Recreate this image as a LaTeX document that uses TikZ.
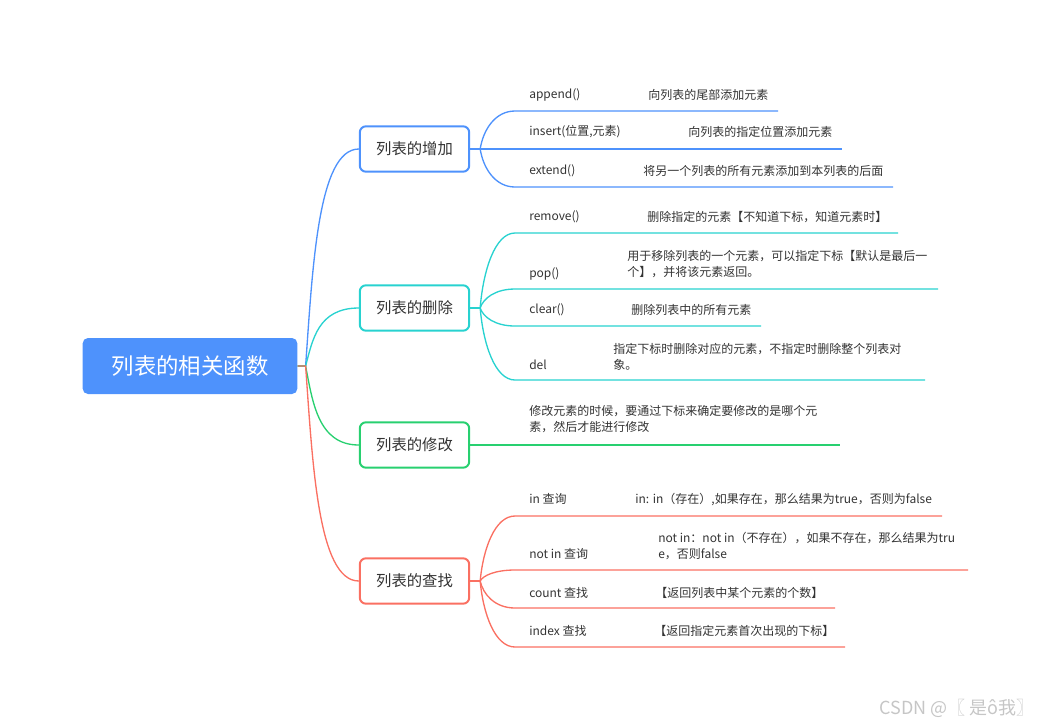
\documentclass[tikz,border=0pt]{standalone}
\usepackage{fontspec}
\setmainfont{Noto Sans CJK SC}
\usepackage{xcolor}
\usepackage{tikz}
\usetikzlibrary{calc}

\definecolor{mmblue}{RGB}{78,146,252}
\definecolor{mmcyan}{RGB}{40,210,208}
\definecolor{mmgreen}{RGB}{40,208,112}
\definecolor{mmred}{RGB}{250,112,98}
\definecolor{txtgray}{RGB}{51,51,51}

\begin{document}
\begin{tikzpicture}[x=0.75pt,y=-0.75pt,
    root/.style={fill=mmblue, rounded corners=4pt, minimum width=161pt, minimum height=42pt,
      text=white, font=\fontsize{16.8pt}{20pt}\selectfont},
    branch/.style={draw, line width=1.5pt, rounded corners=4.5pt, fill=white, minimum width=82pt,
      minimum height=34pt, text=txtgray, font=\fontsize{11.5pt}{14pt}\selectfont},
    item/.style={anchor=west, inner sep=0pt, text=txtgray, align=left,
      font=\fontsize{9pt}{12pt}\selectfont},
    link/.style={line width=1pt}]
  \useasboundingbox (0,0) rectangle (1049,726);

  % centre and the four branches
  \node[root] (root) at (190,366) {列表的相关函数};
  \node[branch, draw=mmblue] (addb) at (414.5,149) {列表的增加};
  \node[branch, draw=mmcyan] (delb) at (414.5,308) {列表的删除};
  \node[branch, draw=mmgreen] (modb) at (414.5,445) {列表的修改};
  \node[branch, draw=mmred] (findb) at (414.5,581) {列表的查找};

  \coordinate (rj) at ($(root.east)+(8,0)$);
  \foreach \b/\c in {addb/mmblue, delb/mmcyan, modb/mmgreen, findb/mmred}
    {\draw[link,\c] (root.east) -- (rj)
      .. controls ($(rj)!0.45!(rj |- \b.west)+(7,0)$) and ($(\b.west)+(-41,0)$) .. (\b.west);}

  % short stubs out of the branches
  \foreach \b/\c in {addb/mmblue, delb/mmcyan, findb/mmred}
    {\coordinate (\b-j) at ($(\b.east)+(10,0)$);
     \draw[link,\c] (\b.east) -- (\b-j);}

  % leaves: name/underline y/underline end/colour/branch
  \foreach \n/\y/\e/\c/\b in {append/111/778/mmblue/addb, insert/149/842/mmblue/addb,
      extend/187/893/mmblue/addb, remove/233/898/mmcyan/delb, pop/289/938/mmcyan/delb,
      clear/326/761/mmcyan/delb, del/380/925/mmcyan/delb, in/516/942/mmred/findb,
      notin/570/968/mmred/findb, count/608/835/mmred/findb, index/647/845/mmred/findb}
    {\coordinate (\n-s) at (515,\y);
     \coordinate (\n-e) at (\e,\y);
     \draw[link,\c] (\b-j)
       .. controls ($(\b-j)!0.5!(\b-j |- \n-s)+(3,0)$) and ($(\n-s)+(-20,0)$) .. (\n-s) -- (\n-e);}
  \coordinate (mod-e) at (840,445);
  \draw[link,mmgreen] (modb.east) -- (mod-e);

  % texts of the leaves
  \node[item] (appendt) at (529,95) {append()};
  \node[item] (appendd) at (648,95) {向列表的尾部添加元素};
  \node[item] (insertt) at (529,132) {insert(位置,元素)};
  \node[item] (insertd) at (688,132) {向列表的指定位置添加元素};
  \node[item] (extendt) at (529,171) {extend()};
  \node[item] (extendd) at (643,171) {将另一个列表的所有元素添加到本列表的后面};

  \node[item] (removet) at (529,217) {remove()};
  \node[item] (removed) at (647,217) {删除指定的元素【不知道下标，知道元素时】};
  \node[item] (popt) at (529,274) {pop()};
  \node[item] (popd) at (627,264) {用于移除列表的一个元素，可以指定下标【默认是最后一\\个】，并将该元素返回。};
  \node[item] (cleart) at (529,310) {clear()};
  \node[item] (cleard) at (631,310) {删除列表中的所有元素};
  \node[item] (delt) at (529,365) {del};
  \node[item] (deld) at (613,357) {指定下标时删除对应的元素，不指定时删除整个列表对\\象。};

  \node[item] (modt) at (529,419.5) {修改元素的时候，要通过下标来确定要修改的是哪个元\\素，然后才能进行修改};

  \node[item] (int) at (529,499) {in 查询};
  \node[item] (ind) at (635,499) {in: in（存在）,如果存在，那么结果为true，否则为false};
  \node[item] (notint) at (529,554) {not in 查询};
  \node[item] (notind) at (658,546) {not in：not in（不存在），如果不存在，那么结果为tru\\e，否则false};
  \node[item] (countt) at (529,593) {count 查找};
  \node[item] (countd) at (655,593) {【返回列表中某个元素的个数】};
  \node[item] (indext) at (529,631) {index 查找};
  \node[item] (indexd) at (654,631) {【返回指定元素首次出现的下标】};

  \node[anchor=east, inner sep=0pt, text=gray!45, font=\fontsize{13.5pt}{16pt}\selectfont]
    (mark) at (1035,708) {CSDN @〖 是ô我〗};
\end{tikzpicture}
\end{document}
